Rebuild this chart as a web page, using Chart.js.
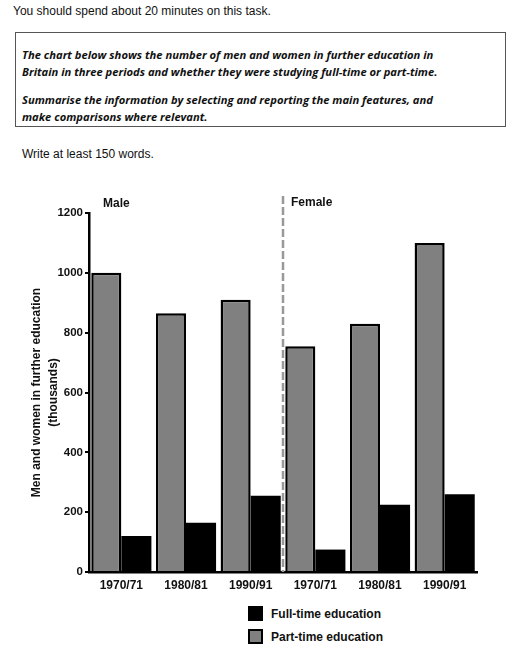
<!DOCTYPE html>
<html>
<head>
<meta charset="utf-8">
<script src="https://cdn.jsdelivr.net/npm/chart.js@4.4.1/dist/chart.umd.min.js"></script>
<style>
  body { margin: 0; background: #fff; width: 514px; height: 650px; position: relative; overflow: hidden; font-family: "Liberation Sans", Arial, sans-serif; }
  .intro { position: absolute; left: 13px; top: 4px; font-size: 12px; color: #111; }
  .task { position: absolute; left: 15px; top: 32px; width: 491px; height: 95px; border: 1.5px solid #555; box-sizing: border-box; }
  .task p { margin: 0; position: absolute; left: 6px; font-family: "Open Sans", Lato, sans-serif; font-weight: bold; font-style: italic; font-size: 11.2px; line-height: 17px; color: #111; white-space: nowrap; }
  .words { position: absolute; left: 22px; top: 147px; font-size: 12px; color: #111; }
  #chartBox { position: absolute; left: 0; top: 180px; width: 514px; height: 420px; }
  #legend { position: absolute; left: 248px; top: 602px; font-size: 12px; font-weight: bold; color: #111; }
  .item { display: flex; align-items: center; height: 23px; }
  .swatch { width: 15px; height: 15px; box-sizing: border-box; margin-right: 8px; }
</style>
</head>
<body>
<div class="intro">You should spend about 20 minutes on this task.</div>
<div class="task">
  <p style="top:13px">The chart below shows the number of men and women in further education in</p>
  <p style="top:30px">Britain in three periods and whether they were studying full-time or part-time.</p>
  <p style="top:58px">Summarise the information by selecting and reporting the main features, and</p>
  <p style="top:75px">make comparisons where relevant.</p>
</div>
<div class="words">Write at least 150 words.</div>
<div id="chartBox"><canvas id="eduChart" width="514" height="420"></canvas></div>
<div id="legend"></div>
<script>
// periods, first three are male, last three female
const categories = ['1970/71', '1980/81', '1990/91', '1970/71', '1980/81', '1990/91'];
const groups = ['Male', 'Female'];
// thousands of students
const partTime = [1000, 865, 910, 755, 830, 1100];
const fullTime = [120, 165, 255, 75, 225, 260];
const yTicks = [0, 200, 400, 600, 800, 1000, 1200];

// dashed divider + Male / Female headings
const groupPlugin = {
    id: 'groupPlugin',
    afterDraw(chart) {
        const ctx = chart.ctx;
        const x = chart.scales.x;
        const area = chart.chartArea;
        const split = (x.getPixelForValue(2) + x.getPixelForValue(3)) / 2;
        ctx.save();
        ctx.strokeStyle = '#999';
        ctx.lineWidth = 2.5;
        ctx.setLineDash([8, 3]);
        ctx.beginPath();
        ctx.moveTo(split, 16);
        ctx.lineTo(split, area.bottom);
        ctx.stroke();
        ctx.fillStyle = '#111';
        ctx.font = 'bold 12px "Liberation Sans", Arial, sans-serif';
        ctx.textBaseline = 'middle';
        ctx.fillText(groups[0], area.left + 14, 24);
        ctx.fillText(groups[1], split + 8, 23);
        ctx.restore();
    }
};

const tickFont = { family: '"Liberation Sans", Arial, sans-serif', size: 11.5, weight: 'bold' };

const eduChart = new Chart(document.getElementById('eduChart'), {
    type: 'bar',
    data: {
        labels: categories,
        datasets: [{
            label: 'Part-time education',
            data: partTime,
            backgroundColor: '#808080',
            borderColor: '#000',
            borderWidth: 2.5
        }, {
            label: 'Full-time education',
            data: fullTime,
            backgroundColor: '#000',
            borderColor: '#000',
            borderWidth: 0
        }]
    },
    options: {
        responsive: false,
        animation: false,
        devicePixelRatio: 1,
        categoryPercentage: 0.93,
        barPercentage: 1,
        layout: { padding: { top: 33, right: 37, left: 0, bottom: 0 } },
        plugins: {
            legend: { display: false },
            tooltip: { enabled: false }
        },
        scales: {
            x: {
                grid: { display: false, drawTicks: false },
                border: { display: true, color: '#000', width: 2.5 },
                ticks: { color: '#111', font: { ...tickFont, size: 12 }, padding: 6, maxRotation: 0 },
                afterFit(scale) { scale.height = 28; }
            },
            y: {
                min: 0,
                max: 1200,
                afterBuildTicks(scale) { scale.ticks = yTicks.map(v => ({ value: v })); },
                grid: { drawOnChartArea: false, color: '#000', lineWidth: 2, tickLength: 4 },
                border: { display: true, color: '#000', width: 2.5 },
                ticks: { color: '#111', font: tickFont, padding: 2, callback: v => String(v) },
                title: {
                    display: true,
                    text: ['Men and women in further education', '(thousands)'],
                    color: '#111',
                    font: { family: '"Liberation Sans", Arial, sans-serif', size: 12, weight: 'bold', lineHeight: 1.4 },
                    padding: { top: 28, bottom: 0 }
                },
                afterFit(scale) { scale.width = 89; }
            }
        }
    },
    plugins: [groupPlugin]
});

// legend lists full-time first
const legend = document.getElementById('legend');
eduChart.data.datasets.slice().reverse().forEach(ds => {
    const item = document.createElement('div');
    item.className = 'item';
    const sw = document.createElement('span');
    sw.className = 'swatch';
    sw.style.background = ds.backgroundColor;
    sw.style.border = '2px solid #000';
    const txt = document.createElement('span');
    txt.textContent = ds.label;
    item.appendChild(sw);
    item.appendChild(txt);
    legend.appendChild(item);
});
</script>
</body>
</html>
